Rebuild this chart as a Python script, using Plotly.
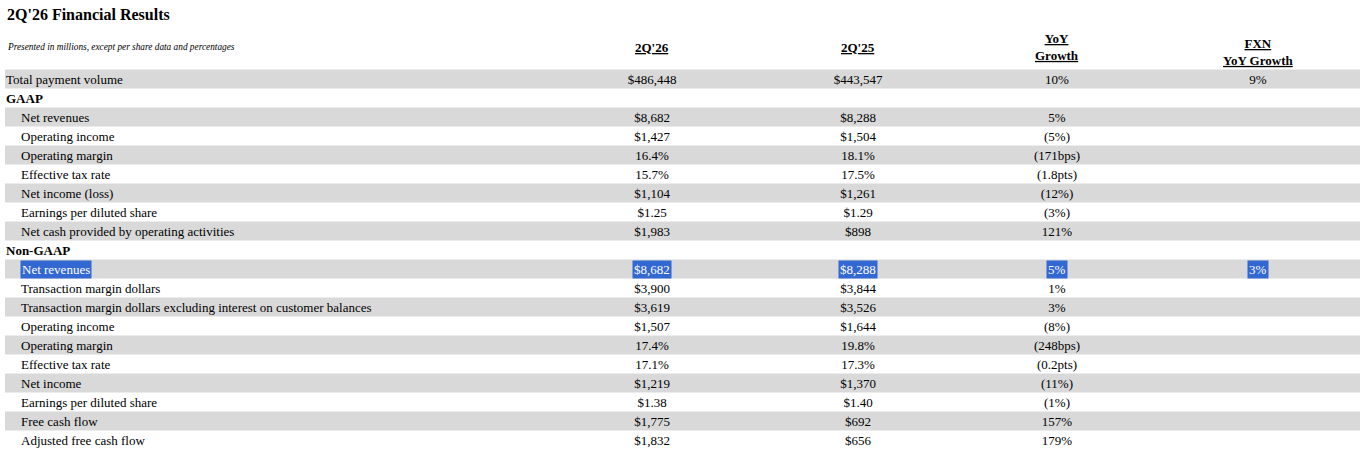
import plotly.graph_objects as go

# table rows (top to bottom)
labels = [
    "Total payment volume", "GAAP", "Net revenues", "Operating income",
    "Operating margin", "Effective tax rate", "Net income (loss)",
    "Earnings per diluted share", "Net cash provided by operating activities",
    "Non-GAAP", "Net revenues", "Transaction margin dollars",
    "Transaction margin dollars excluding interest on customer balances",
    "Operating income", "Operating margin", "Effective tax rate",
    "Net income", "Earnings per diluted share", "Free cash flow",
    "Adjusted free cash flow",
]
levels = [0, 0, 1, 1, 1, 1, 1, 1, 1, 0, 1, 1, 1, 1, 1, 1, 1, 1, 1, 1]
section_rows = [1, 9]
shaded_rows = [0, 2, 4, 6, 8, 10, 12, 14, 16, 18]
selected_row = 10

q2_26 = ["$486,448", "", "$8,682", "$1,427", "16.4%", "15.7%", "$1,104", "$1.25",
         "$1,983", "", "$8,682", "$3,900", "$3,619", "$1,507", "17.4%", "17.1%",
         "$1,219", "$1.38", "$1,775", "$1,832"]
q2_25 = ["$443,547", "", "$8,288", "$1,504", "18.1%", "17.5%", "$1,261", "$1.29",
         "$898", "", "$8,288", "$3,844", "$3,526", "$1,644", "19.8%", "17.3%",
         "$1,370", "$1.40", "$692", "$656"]
yoy = ["10%", "", "5%", "(5%)", "(171bps)", "(1.8pts)", "(12%)", "(3%)",
       "121%", "", "5%", "1%", "3%", "(8%)", "(248bps)", "(0.2pts)",
       "(11%)", "(1%)", "157%", "179%"]
fxn = ["9%", "", "", "", "", "", "", "", "", "", "3%", "", "", "", "", "", "", "", "", ""]

headers = ["2Q'26", "2Q'25", "YoY<br>Growth", "FXN<br>YoY Growth"]
value_cols = [q2_26, q2_25, yoy, fxn]

title = "2Q'26 Financial Results"
subtitle = "Presented in millions, except per share data and percentages"

# layout (pixels)
W, H = 1365, 450
col_x = [652, 858, 1057, 1258]
indent_x = [6, 21]
band_left, band_right = 5, 1360
row0_px, row_px = 79, 19.0
text_nudge = 0.1  # scatter text sits a bit high, push it down (in rows)
FONT = "Liberation Serif, Times New Roman, serif"
SEL = "#3367d1"


def px2row(p):
    return (p - row0_px) / row_px


rows = list(range(len(labels)))
text_rows = [r + text_nudge for r in rows]
fig = go.Figure()

# grey row bands
fig.add_trace(go.Bar(
    y=shaded_rows, x=[band_right - band_left] * len(shaded_rows), base=band_left,
    orientation="h", width=0.99, marker=dict(color="#d9d9d9", line_width=0),
    hoverinfo="skip",
))

# row labels
lab_text = []
for i, t in enumerate(labels):
    if i == selected_row:
        lab_text.append("")
    elif i in section_rows:
        lab_text.append(f"<b>{t}</b>")
    else:
        lab_text.append(t)
fig.add_trace(go.Scatter(
    x=[indent_x[l] for l in levels], y=text_rows, mode="text", text=lab_text,
    textposition="middle right", textfont=dict(family=FONT, size=13, color="black"),
    hoverinfo="skip",
))

# value columns
for cx, vals in zip(col_x, value_cols):
    txt = ["" if i == selected_row else v for i, v in enumerate(vals)]
    fig.add_trace(go.Scatter(
        x=[cx] * len(rows), y=text_rows, mode="text", text=txt,
        textposition="middle center", textfont=dict(family=FONT, size=13, color="black"),
        hoverinfo="skip",
    ))

annotations = []
# selected (highlighted) row
annotations.append(dict(
    x=indent_x[levels[selected_row]] - 1, y=selected_row, xref="x", yref="y",
    text=labels[selected_row], showarrow=False, xanchor="left", yanchor="middle",
    bgcolor=SEL, borderpad=1, font=dict(family=FONT, size=13, color="white"),
))
for cx, vals in zip(col_x, value_cols):
    if vals[selected_row]:
        annotations.append(dict(
            x=cx, y=selected_row, xref="x", yref="y", text=vals[selected_row],
            showarrow=False, xanchor="center", yanchor="middle",
            bgcolor=SEL, borderpad=1, font=dict(family=FONT, size=13, color="white"),
        ))

# headers
header_y = [47, 47, 47, 52]
for cx, hy, h in zip(col_x, header_y, headers):
    annotations.append(dict(
        x=cx, y=px2row(hy), xref="x", yref="y",
        text="<br>".join(f"<b><u>{p}</u></b>" for p in h.split("<br>")),
        showarrow=False, xanchor="center", yanchor="middle",
        font=dict(family=FONT, size=13, color="black"),
    ))

annotations.append(dict(
    x=5, y=px2row(14), xref="x", yref="y", text=f"<b>{title}</b>",
    showarrow=False, xanchor="left", yanchor="middle",
    font=dict(family=FONT, size=16, color="black"),
))
annotations.append(dict(
    x=5, y=px2row(47), xref="x", yref="y", text=f"<i>{subtitle}</i>",
    showarrow=False, xanchor="left", yanchor="middle",
    font=dict(family=FONT, size=9.3, color="black"),
))

fig.update_layout(
    width=W, height=H, margin=dict(l=0, r=0, t=0, b=0),
    paper_bgcolor="white", plot_bgcolor="white",
    showlegend=False, hovermode=False, annotations=annotations,
    xaxis=dict(range=[0, W], visible=False, fixedrange=True),
    yaxis=dict(range=[px2row(H), px2row(0)], visible=False, fixedrange=True),
)

fig.write_html(
    "out.html",
    config={"displayModeBar": False},
    post_script="document.body.style.margin='0';document.body.style.overflow='hidden';",
)
